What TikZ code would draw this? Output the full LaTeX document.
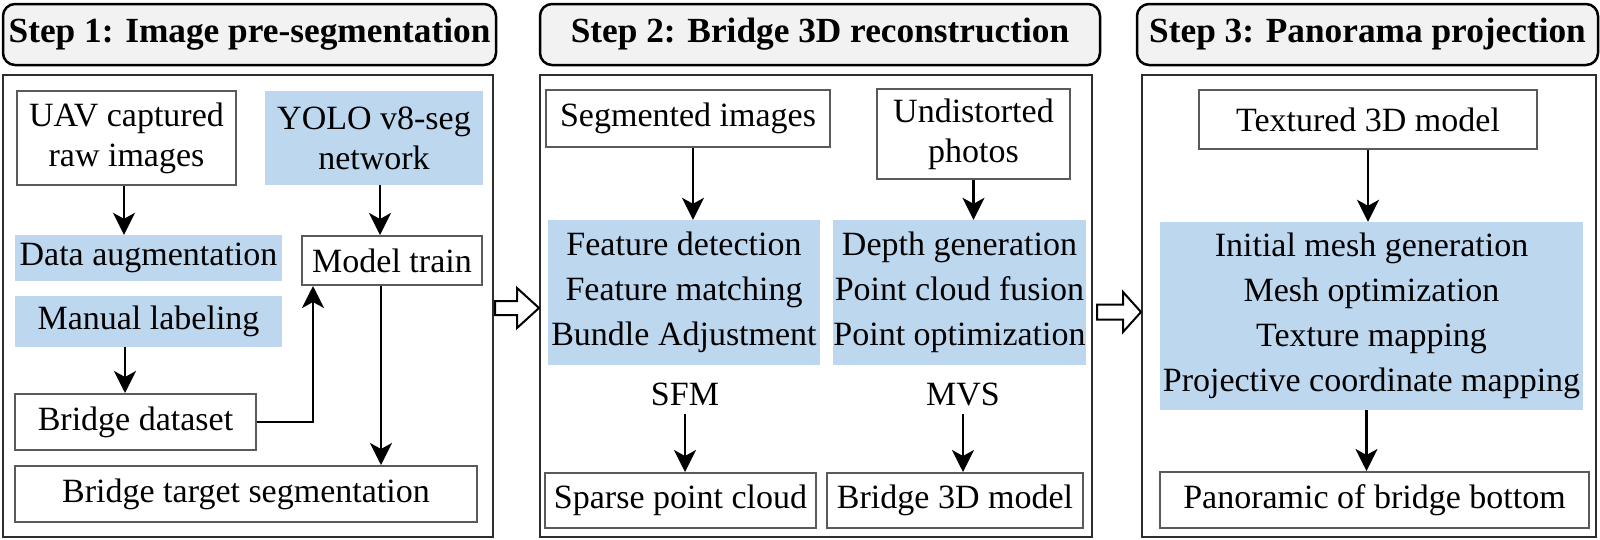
\documentclass[tikz,border=0pt]{standalone}
\usepackage{fontspec}
\setmainfont{Liberation Serif}
\usetikzlibrary{arrows.meta,calc}
\definecolor{lblue}{RGB}{189,215,238}
\definecolor{hdrgray}{RGB}{242,242,242}
\definecolor{boxgray}{RGB}{90,90,90}
\definecolor{pangray}{RGB}{45,45,45}
\begin{document}
\begin{tikzpicture}[x=1pt,y=-1pt,
  hdr/.style={draw=black, line width=2.5pt, rounded corners=12pt, fill=hdrgray, inner sep=0, font=\fontsize{35.3}{40}\selectfont\bfseries},
  panel/.style={draw=pangray, line width=2pt, inner sep=0},
  box/.style={draw=boxgray, line width=2pt, fill=white, inner sep=0, align=center, font=\fontsize{34}{40}\selectfont},
  bluebox/.style={fill=lblue, inner sep=0, align=center, font=\fontsize{34}{45}\selectfont},
  lbl/.style={inner sep=0, font=\fontsize{34}{40}\selectfont},
  arr/.style={line width=2.6pt, -{Stealth[length=22pt,width=22pt,inset=6pt]}},
  hollow/.style={draw=black, line width=2pt, fill=white, line join=miter}]
\useasboundingbox (0,0) rectangle (1600,539);

% headers
\node[hdr, minimum width=493pt, minimum height=61pt] (h1) at (249.5,34.5) {Step 1: Image pre-segmentation};
\node[hdr, minimum width=560pt, minimum height=61pt] (h2) at (820,34.5) {Step 2: Bridge 3D reconstruction};
\node[hdr, minimum width=461pt, minimum height=61pt] (h3) at (1367.5,34.5) {Step 3: Panorama projection};

% panels
\node[panel, minimum width=490pt, minimum height=462pt] (pan1) at (248,306) {};
\node[panel, minimum width=552pt, minimum height=462pt] (pan2) at (816,306) {};
\node[panel, minimum width=454pt, minimum height=462pt] (pan3) at (1369,306) {};

% step 1
\node[box, minimum width=219pt, minimum height=94pt] (uav) at (126.5,138) {UAV captured\\raw images};
\node[bluebox, font=\fontsize{34}{40}\selectfont, minimum width=218pt, minimum height=94pt] (yolo) at (374,138) {YOLO v8-seg\\network};
\node[bluebox, minimum width=267pt, minimum height=46pt] (aug) at (148.5,258) {Data augmentation};
\node[box, minimum width=180pt, minimum height=49pt] (train) at (392,260.5) {Model train};
\node[bluebox, minimum width=267pt, minimum height=51pt] (manual) at (148.5,321.5) {Manual labeling};
\node[box, minimum width=241pt, minimum height=56pt] (dataset) at (135.5,422) {Bridge dataset};
\node[box, minimum width=462pt, minimum height=56pt] (target) at (246,494) {Bridge target segmentation};

\draw[arr] ([xshift=-2.5pt]uav.south) -- ([xshift=-2.5pt]uav.south |- aug.north);
\draw[arr] ([xshift=6pt]yolo.south) -- ([xshift=6pt]yolo.south |- train.north);
\draw[arr] ([xshift=-23.5pt]manual.south) -- ([xshift=-23.5pt]manual.south |- dataset.north);
\draw[arr] (dataset.east) -| ([xshift=-79pt]train.south);
\draw[arr] ([xshift=-11pt]train.south) -- ([xshift=-11pt]train.south |- target.north);

% step 2
\node[box, minimum width=284pt, minimum height=57pt] (seg) at (688,118.5) {Segmented images};
\node[box, minimum width=193pt, minimum height=90pt] (und) at (973.5,134) {Undistorted\\photos};
\node[bluebox, minimum width=272pt, minimum height=145pt] (sfm) at (684,292.5) {Feature detection\\Feature matching\\Bundle Adjustment};
\node[bluebox, minimum width=247pt, minimum height=145pt] (mvs) at (959.5,292.5) {Depth generation\\Point cloud fusion\\Point optimization};
\node[lbl] (sfml) at (685,394) {SFM};
\node[lbl] (mvsl) at (963,394) {MVS};
\node[box, minimum width=271pt, minimum height=55pt] (sparse) at (680.5,500.5) {Sparse point cloud};
\node[box, minimum width=256pt, minimum height=55pt] (b3d) at (955,500.5) {Bridge 3D model};

\draw[arr] ([xshift=5pt]seg.south) -- ([xshift=5pt]seg.south |- sfm.north);
\draw[arr] (und.south) -- (und.south |- mvs.north);
\draw[arr] ([yshift=-8pt]sfml.south) -- (sfml.south |- sparse.north);
\draw[arr] ([yshift=-8pt]mvsl.south) -- (mvsl.south |- b3d.north);

% step 3
\node[box, minimum width=338pt, minimum height=59pt] (tex) at (1368,119.5) {Textured 3D model};
\node[bluebox, minimum width=423pt, minimum height=188pt] (proj) at (1371.5,316) {Initial mesh generation\\Mesh optimization\\Texture mapping\\Projective coordinate mapping};
\node[box, minimum width=429pt, minimum height=56pt] (pano) at (1374.5,500) {Panoramic of bridge bottom};

\draw[arr] (tex.south) -- (tex.south |- proj.north);
\draw[arr] ([xshift=-5pt]proj.south) -- ([xshift=-5pt]proj.south |- pano.north);

% hollow arrows between panels
\draw[hollow] ($(pan1.east)+(1,-5)$) -- ++(22,0) -- ++(0,-13) -- ($(pan2.west)+(0,2)$) -- ($(pan1.east)+(23,22)$) -- ++(0,-13) -- ++(-22,0) -- cycle;
\draw[hollow] ($(pan2.east)+(4,-1.5)$) -- ++(26,0) -- ++(0,-12.5) -- ($(pan3.west)+(0,6)$) -- ($(pan2.east)+(30,26)$) -- ++(0,-12.5) -- ++(-26,0) -- cycle;
\end{tikzpicture}
\end{document}
